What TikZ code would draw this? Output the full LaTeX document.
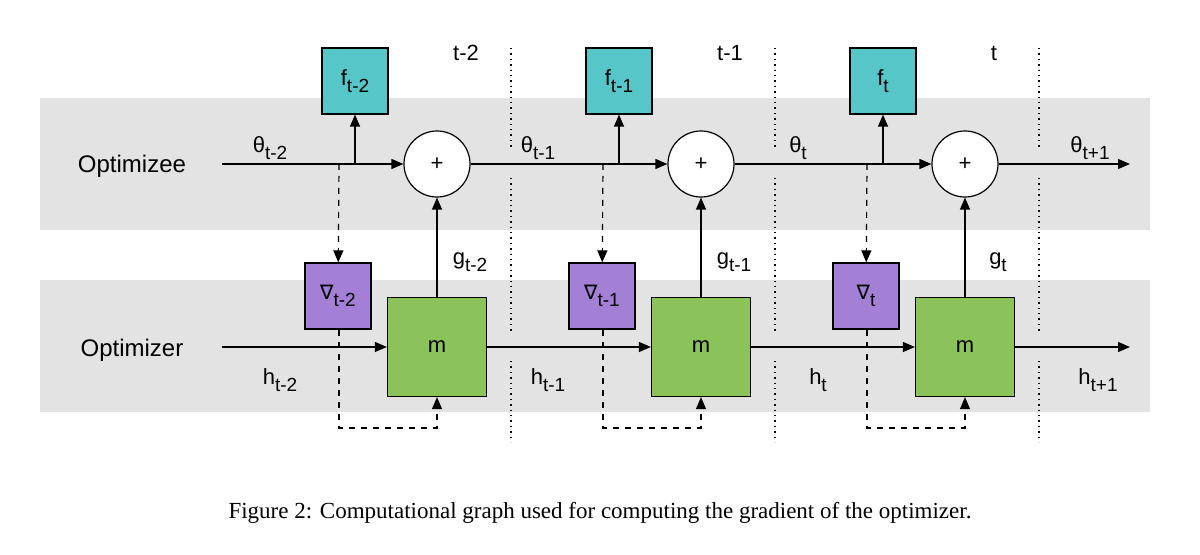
\documentclass[tikz,border=0pt]{standalone}
\usepackage{fontspec}
\setmainfont{Liberation Sans}
\newfontfamily\capfont{Liberation Serif}
\newfontfamily\djv{DejaVu Sans}
\usetikzlibrary{arrows.meta}
\newcommand{\lsub}[1]{\raisebox{-0.55ex}{\fontsize{9.5}{11}\selectfont #1}}
\begin{document}
\begin{tikzpicture}[x=0.5pt,y=-0.5pt,
  every node/.style={font=\fontsize{11}{13}\selectfont},
  box/.style={draw,line width=0.6pt,minimum size=33pt,inner sep=0pt},
  mbox/.style={draw,line width=0.6pt,fill=mgreen,minimum size=49.5pt,inner sep=0pt},
  arr/.style={line width=0.6pt,-{Triangle[length=6pt,width=5pt]}},
  dsh/.style={arr,dashed},
  dot/.style={line width=0.7pt,dotted}]
\definecolor{band}{HTML}{E3E3E3}
\definecolor{fcol}{HTML}{56C6C9}
\definecolor{gcol}{HTML}{A47FD6}
\definecolor{mgreen}{HTML}{8BC25A}
\useasboundingbox (0,0) rectangle (1200,555);
\fill[band] (40,98) rectangle (1150,230);
\fill[band] (40,280) rectangle (1150,412);
\node at (132,166) {\fontsize{12}{14}\selectfont Optimizee};
\node at (132,350) {\fontsize{12}{14}\selectfont Optimizer};
\coordinate (th0) at (222,164);
\coordinate (h0) at (222,347);
\foreach \i/\s in {0/{t-2},1/{t-1},2/{t}}{
  \pgfmathsetmacro{\dx}{264*\i}
  \begin{scope}[xshift=\dx*0.5pt]
  \node[box,fill=fcol] (f\i) at (355,81) {f\lsub{\s}};
  \node[box,fill=gcol] (d\i) at (338,296) {{\djv\fontsize{10}{12}\selectfont ∇}\lsub{\s}};
  \node[mbox] (m\i) at (437,347) {m};
  \node[circle,draw,fill=white,line width=0.6pt,minimum size=33pt,inner sep=0pt] (p\i) at (437,164) {+};
  \coordinate (b\i) at (355,164);
  \coordinate (c\i) at (339,164);
  \coordinate (e\i) at (339,428);
  \coordinate (q\i) at (437,428);
  \node at (470,262) {g\lsub{\s}};
  \node at (466,53) {\s};
  \draw[dot] (511,48) -- (511,150);
  \draw[dot] (511,178) -- (511,333);
  \draw[dot] (511,361) -- (511,442);
  \end{scope}
}
\node at (270,148) {θ\lsub{t-2}};
\node at (538,148) {θ\lsub{t-1}};
\node at (798,148) {θ\lsub{t}};
\node at (1090,148) {θ\lsub{t+1}};
\node at (280,380) {h\lsub{t-2}};
\node at (548,380) {h\lsub{t-1}};
\node at (818,380) {h\lsub{t}};
\node at (1098,380) {h\lsub{t+1}};
\coordinate (th3) at (1130,164);
\coordinate (h3) at (1130,347);
\draw[line width=0.6pt] (th0) -- (b0); \draw[arr] (b0) -- (p0);
\draw[line width=0.6pt] (p0) -- (b1); \draw[arr] (b1) -- (p1);
\draw[line width=0.6pt] (p1) -- (b2); \draw[arr] (b2) -- (p2);
\draw[arr] (p2) -- (th3);
\draw[arr] (h0) -- (m0); \draw[arr] (m0) -- (m1); \draw[arr] (m1) -- (m2); \draw[arr] (m2) -- (h3);
\foreach \i in {0,1,2}{
  \draw[arr] (b\i) -- (f\i);
  \draw[arr] (m\i) -- (p\i);
  \draw[dsh] (c\i) -- (d\i);
  \draw[dsh] (d\i.south) ++(1,0) -- (e\i) -- (q\i) -- (m\i);
}
\node[font=\capfont\fontsize{11.5}{13}\selectfont] at (600,513) {Figure 2: Computational graph used for computing the gradient of the optimizer.};
\end{tikzpicture}
\end{document}
